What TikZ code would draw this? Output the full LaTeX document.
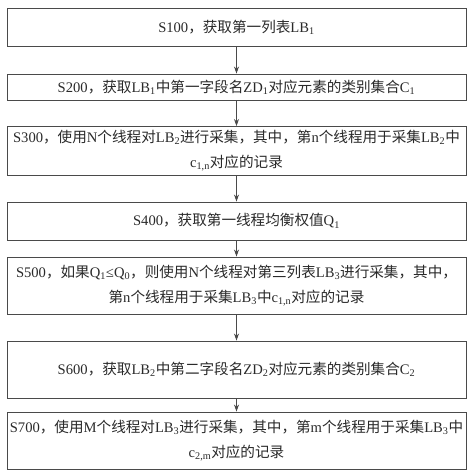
\documentclass[tikz,border=0pt]{standalone}
\usepackage{fontspec}
\setmainfont{Liberation Serif}
\newfontfamily\cjk{Noto Sans CJK SC}
\usetikzlibrary{arrows.meta}
\newcommand\zh[1]{{\cjk #1}}
\newcommand\sbs[1]{\textsubscript{#1}}
\definecolor{ink}{HTML}{2A2A2A}
\definecolor{edge}{HTML}{4A4A4A}
\tikzset{
  stepbox/.style={draw=edge, line width=0.9pt, minimum width=459pt, text width=457pt, align=center, inner sep=0pt, text=ink, font=\fontsize{14.6}{22}\selectfont},
  flow/.style={draw=edge, line width=0.9pt, -{Stealth[length=7pt,width=5pt]}}
}
\begin{document}
\begin{tikzpicture}[x=1pt,y=-1pt]
\useasboundingbox[fill=white] (0,0) rectangle (474,475);
\node[stepbox, minimum height=38pt] (b1) at (236.5,27) {S100\zh{，获取第一列表}LB\sbs{1}};
\node[stepbox, minimum height=26pt] (b2) at (236.5,87) {S200\zh{，获取}LB\sbs{1}\zh{中第一字段名}ZD\sbs{1}\zh{对应元素的类别集合}C\sbs{1}};
\node[stepbox, minimum height=49pt] (b3) at (236.5,151) {S300\zh{，使用}N\zh{个线程对}LB\sbs{2}\zh{进行采集，其中，第}n\zh{个线程用于采集}LB\sbs{2}\zh{中}\\[3pt]c\sbs{1,n}\zh{对应的记录}};
\node[stepbox, minimum height=38pt] (b4) at (236.5,221) {S400\zh{，获取第一线程均衡权值}Q\sbs{1}};
\node[stepbox, minimum height=57pt] (b5) at (236.5,285.5) {S500\zh{，如果}Q\sbs{1}≤Q\sbs{0}\zh{，则使用}N\zh{个线程对第三列表}LB\sbs{3}\zh{进行采集，其中，}\\[3pt]\zh{第}n\zh{个线程用于采集}LB\sbs{3}\zh{中}c\sbs{1,n}\zh{对应的记录}};
\node[stepbox, minimum height=57pt] (b6) at (236.5,369.5) {S600\zh{，获取}LB\sbs{2}\zh{中第二字段名}ZD\sbs{2}\zh{对应元素的类别集合}C\sbs{2}};
\node[stepbox, minimum height=57pt] (b7) at (236.5,440.5) {S700\zh{，使用}M\zh{个线程对}LB\sbs{3}\zh{进行采集，其中，第}m\zh{个线程用于采集}LB\sbs{3}\zh{中}\\[3pt]c\sbs{2,m}\zh{对应的记录}};
\draw[flow] (b1) -- (b2);
\draw[flow] (b2) -- (b3);
\draw[flow] (b3) -- (b4);
\draw[flow] (b4) -- (b5);
\draw[flow] (b5) -- (b6);
\draw[flow] (b6) -- (b7);
\end{tikzpicture}
\end{document}
